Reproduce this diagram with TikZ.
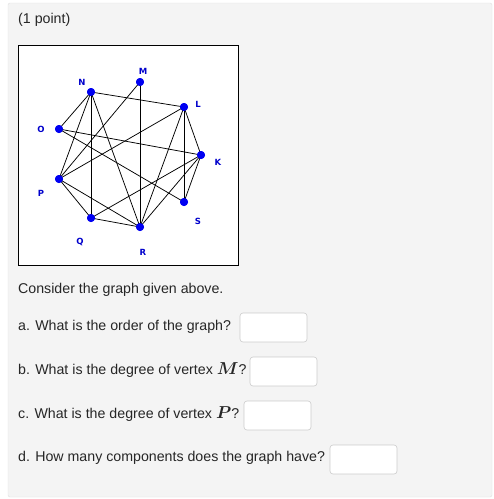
\documentclass[tikz,border=0pt]{standalone}
\usepackage{fontspec}
\setmainfont{Liberation Sans}
\newfontfamily\labfont{DejaVu Sans}
\begin{document}
\begin{tikzpicture}[x=1pt,y=-1pt,
  vtx/.style={circle,fill=blue!95!black,inner sep=0pt,minimum size=8pt},
  vlab/.style={font=\labfont\fontsize{8.5}{9}\selectfont\bfseries,text=blue!80!black,inner sep=0pt},
  edge/.style={draw=black,line width=0.75pt},
  txt/.style={font=\fontsize{14.2}{16}\selectfont,anchor=west,inner sep=0pt,text=black!85},
  ansbox/.style={draw=black!20,fill=white,rounded corners=3pt,line width=0.6pt}]
\useasboundingbox (0,0) rectangle (494,499);
\fill[white] (0,0) rectangle (494,499);
\draw[draw=black!12,fill=black!4.5,rounded corners=2pt] (8,3) rectangle (492,497);
\node[txt] (title) at (18,20) {(1 point)};
\draw[fill=white,draw=black,line width=0.8pt] (18,45) rectangle (238,265);
% vertices
\node[vtx] (N) at (91,92) {};
\node[vtx] (M) at (140,82) {};
\node[vtx] (L) at (184,107) {};
\node[vtx] (O) at (59,129) {};
\node[vtx] (K) at (201,155) {};
\node[vtx] (P) at (59,179) {};
\node[vtx] (S) at (184,202) {};
\node[vtx] (Q) at (91,218) {};
\node[vtx] (R) at (140,227) {};
% labels
\node[vlab] (lN) at (82,82) {N};
\node[vlab] (lM) at (143,71) {M};
\node[vlab] (lL) at (198,104) {L};
\node[vlab] (lO) at (41,129) {O};
\node[vlab] (lK) at (218,162) {K};
\node[vlab] (lP) at (41,193) {P};
\node[vlab] (lS) at (198,221) {S};
\node[vlab] (lQ) at (80,242) {Q};
\node[vlab] (lR) at (143,252) {R};
% edges
\foreach \a/\b in {N/L,N/O,N/P,N/Q,N/R,M/R,M/P,L/P,L/K,L/S,L/R,O/K,O/S,K/Q,K/R,K/S,Q/R,P/Q,P/R}
  \draw[edge] (\a.center) -- (\b.center);
\foreach \v in {N,M,L,O,K,P,S,Q,R} \node[vtx] at (\v) {};
% questions
\node[txt] (t0) at (18,290) {Consider the graph given above.};
\node[txt] (ta) at (18,327) {a. What is the order of the graph?};
\draw[ansbox] (240,313) rectangle (307,342);
\node[txt] (tb) at (18,370) {b. What is the degree of vertex {\fontsize{17}{17}\selectfont\boldmath$M$}?};
\draw[ansbox] (250,357) rectangle (317,386);
\node[txt] (tc) at (18,414) {c. What is the degree of vertex {\fontsize{17}{17}\selectfont\boldmath$P$}?};
\draw[ansbox] (244,401) rectangle (311,430);
\node[txt] (td) at (18,458) {d. How many components does the graph have?};
\draw[ansbox] (330,445) rectangle (397,474);
\end{tikzpicture}
\end{document}
